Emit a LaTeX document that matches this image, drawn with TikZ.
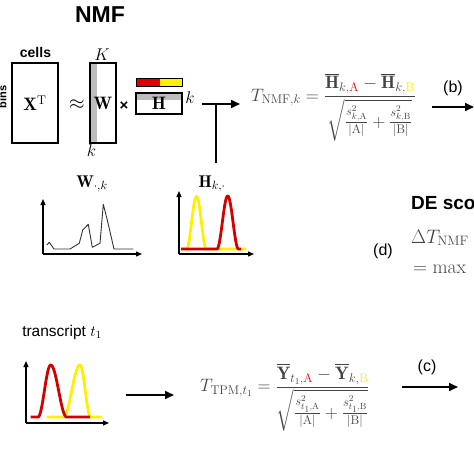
\RequirePackage{fix-cm}
\documentclass[tikz,border=0pt]{standalone}
\usepackage{amsmath}
\usepackage{fontspec}
\setsansfont{Liberation Sans}
\usetikzlibrary{arrows.meta}
\definecolor{pred}{HTML}{E00000}
\definecolor{pdred}{HTML}{D40000}
\definecolor{pyel}{HTML}{FFF000}
\definecolor{ftxt}{HTML}{444444}
\definecolor{stripe}{HTML}{BDBDBD}
\begin{document}
\begin{tikzpicture}[x=1pt,y=-1pt,
  box/.style={draw, line width=1.1pt, inner sep=0pt},
  arr/.style={line width=1.6pt, -{Triangle[length=9pt,width=8pt]}},
  axisarr/.style={line width=1.3pt, -{Triangle[length=6pt,width=5pt]}},
  lbl/.style={font=\sffamily\fontsize{16}{16}\selectfont},
  bigmath/.style={font=\fontsize{18}{18}\selectfont},
  midmath/.style={font=\fontsize{17}{17}\selectfont},
  formula/.style={text=ftxt, anchor=base west, inner sep=0pt, font=\fontsize{18}{18}\selectfont},
  curve/.style={line width=2.8pt, line join=round}
]
\path[use as bounding box] (0,0) rectangle (474,474);
\clip (0,0) rectangle (474,474);

% ---------- NMF ----------
\node[font=\sffamily\bfseries\fontsize{23}{23}\selectfont] (nmf) at (100,15) {NMF};
\node[font=\sffamily\bfseries\fontsize{14}{14}\selectfont] (cells) at (35.5,52) {cells};
\node[font=\sffamily\bfseries\fontsize{11}{11}\selectfont, rotate=90] (bins) at (2.5,97) {bins};

\node[box, bigmath, minimum width=46pt, minimum height=80pt] (X) at (35,103) {$\mathbf{X}^{\mathrm{T}}$};
\node[font=\fontsize{20}{20}\selectfont] (approx) at (77,105) {$\approx$};

\fill[stripe] (90,63) rectangle (97,143);
\node[box, bigmath, minimum width=26pt, minimum height=80pt] (W) at (103,103) {$\mathbf{W}$};
\node[midmath] (K) at (102,54.5) {$K$};
\node[midmath] (kw) at (91.5,151) {$k$};

\node[font=\sffamily\bfseries\fontsize{15}{15}\selectfont] (times) at (124,106) {×};

\fill[pred] (136,78) rectangle (160,86);
\fill[pyel] (160,78) rectangle (182,86);
\draw[line width=0.8pt] (136,78) rectangle (182,86);

\fill[stripe] (136,93) rectangle (182,100);
\node[box, bigmath, minimum width=46pt, minimum height=21pt] (H) at (159,103.5) {$\mathbf{H}$};
\node[midmath] (kh) at (190,97.5) {$k$};

% T connector
\coordinate (hs) at (202,104);
\coordinate (he) at (240,104);
\coordinate (tj) at (216,104);
\coordinate (tb) at (216,163);
\draw[arr] (hs) -- (he);
\draw[line width=1.6pt] (tj) -- (tb);

% T_NMF formula
\node[formula] (tnmf) at (251,101) {$\displaystyle T_{\mathrm{NMF},k} = \frac{\overline{\mathbf{H}}_{k,\textcolor{red}{\mathrm{A}}} - \overline{\mathbf{H}}_{k,\textcolor{pyel}{\mathrm{B}}}}{\sqrt{\frac{s^2_{k,\mathrm{A}}}{|\mathrm{A}|}+\frac{s^2_{k,\mathrm{B}}}{|\mathrm{B}|}}}$};

\node[lbl] (lb) at (453,88) {(b)};
\coordinate (bs) at (432,107);
\coordinate (be) at (474,107);
\draw[arr] (bs) -- (be);

% ---------- W plot ----------
\node[midmath] (wt) at (92,184) {$\mathbf{W}_{\cdot,k}$};
\coordinate (wo) at (43,254);
\coordinate (wy) at (43,199);
\coordinate (wx) at (142,254);
\draw[axisarr] (wo) -- (wy);
\draw[axisarr] (wo) -- (wx);
\draw[line width=0.9pt, black!80, line join=round] plot coordinates {(46.7,245) (49.3,242.3) (54,249) (70,249) (79.3,243.3) (82.7,230) (88.3,224.3) (92.3,247.3) (100,243.3) (103.3,204.3) (107.3,220) (114,249) (133.3,249)};

% ---------- H plot ----------
\node[midmath] (ht) at (212,184) {$\mathbf{H}_{k,\cdot}$};
\coordinate (ho) at (179,254);
\coordinate (hy) at (179,191);
\coordinate (hx) at (254,254);
\draw[curve, pyel] (181,249) -- (186.5,249)
  -- plot[domain=186.5:206.5, samples=60] (\x, {249 - 52.5*pow(cos(90*(\x-196.5)/10),2)})
  -- (246,249);
\draw[curve, pdred] (181,249) -- (216.9,249)
  -- plot[domain=216.9:238.5, samples=60] (\x, {249 - 53*pow(cos(90*(\x-227.7)/10.8),2)})
  -- (241,249);
\draw[axisarr] (ho) -- (hy);
\draw[axisarr] (ho) -- (hx);

% ---------- DE scores ----------
\node[font=\sffamily\bfseries\fontsize{19}{19}\selectfont, anchor=west, inner sep=0pt] (de) at (411,203.5) {DE scores};
\node[formula, font=\fontsize{19.5}{19.5}\selectfont] (dt) at (411,243) {$\Delta T_{\mathrm{NMF}}$};
\node[formula, font=\fontsize{19.5}{19.5}\selectfont] (dmax) at (413,273) {$=\max$};
\node[lbl] (ld) at (383,251) {(d)};

% ---------- transcript ----------
\node[font=\sffamily\fontsize{15.5}{15.5}\selectfont] (tr) at (62,332) {transcript $t_1$};
\coordinate (to) at (26,423);
\coordinate (ty) at (26,361);
\coordinate (tx) at (109,423);
\draw[curve, pyel] (46.7,417) -- (63.3,417)
  -- plot[domain=63.3:80, samples=50] (\x, {417 - 52*pow(cos(90*(\x-80)/16.7),2)})
  -- plot[domain=80:90.7, samples=40] (\x, {417 - 52*pow(cos(90*(\x-80)/10.7),2)})
  -- (101.7,417);
\draw[curve, pdred] (30.7,417) -- (38,417)
  -- plot[domain=38:50.7, samples=40] (\x, {417 - 52*pow(cos(90*(\x-50.7)/12.7),2)})
  -- plot[domain=50.7:66.7, samples=50] (\x, {417 - 52*pow(cos(90*(\x-50.7)/16),2)})
  -- (90,417);
\draw[axisarr] (to) -- (ty);
\draw[axisarr] (to) -- (tx);

\coordinate (ts) at (126,395);
\coordinate (te) at (174,395);
\draw[arr] (ts) -- (te);

\node[formula] (ttpm) at (200,391.5) {$\displaystyle T_{\mathrm{TPM},t_1} = \frac{\overline{\mathbf{Y}}_{t_1,\textcolor{red}{\mathrm{A}}} - \overline{\mathbf{Y}}_{k,\textcolor{pyel}{\mathrm{B}}}}{\sqrt{\frac{s^2_{t_1,\mathrm{A}}}{|\mathrm{A}|}+\frac{s^2_{t_1,\mathrm{B}}}{|\mathrm{B}|}}}$};

\node[lbl] (lc) at (427,367) {(c)};
\coordinate (cs) at (402,387);
\coordinate (ce) at (458,387);
\draw[arr] (cs) -- (ce);
\end{tikzpicture}
\end{document}
